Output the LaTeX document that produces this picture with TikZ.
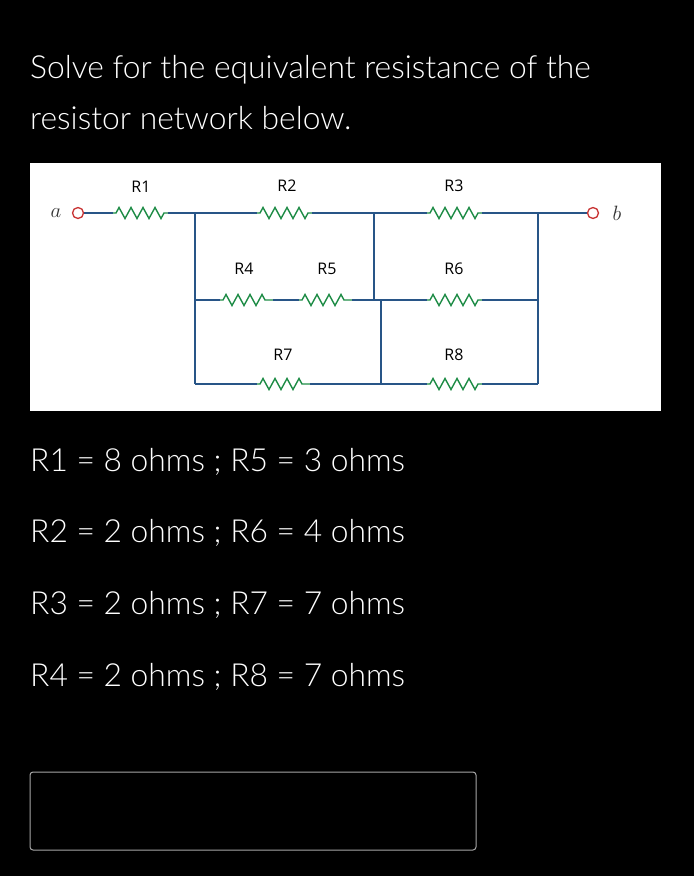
\documentclass[tikz,border=0pt]{standalone}
\usepackage{fontspec}
\setmainfont{Lato Light}
\newfontfamily\lab{Open Sans}
\usetikzlibrary{decorations.pathmorphing,calc}
\definecolor{wire}{RGB}{40,85,135}
\definecolor{resc}{RGB}{30,140,70}
\definecolor{term}{RGB}{200,50,50}
\begin{document}
\begin{tikzpicture}[x=1pt,y=-1pt,
  w/.style={wire,line width=1.8pt},
  r/.style={resc,line width=1.4pt,decorate,decoration={zigzag,segment length=12pt,amplitude=5.5pt,pre length=3pt,post length=3pt}},
  lb/.style={font=\lab\fontsize{16}{16}\selectfont,text=black},
  big/.style={font=\fontsize{31.8}{31.8}\selectfont,text=white,anchor=west,inner sep=0}]
\useasboundingbox[fill=black] (0,0) rectangle (694,876);
\node[big] (t1) at (30,70) {Solve for the equivalent resistance of the};
\node[big] (t2) at (30,118) {resistor network below.};
\fill[white] (30,163) rectangle (661,411);
\coordinate (a) at (78,213); \coordinate (b) at (593,213);
\coordinate (TL) at (195,213); \coordinate (TM) at (374,213); \coordinate (TR) at (538,213);
\coordinate (ML) at (195,300); \coordinate (MM) at (374,300); \coordinate (MN) at (381,300); \coordinate (MR) at (538,300);
\coordinate (BL) at (195,384); \coordinate (BM) at (381,384); \coordinate (BR) at (538,384);
\foreach \n/\x/\y/\e in {1/113/213/168, 2/257/213/312, 3/427/213/482, 4/220/300/273, 5/299/300/352, 6/427/300/482, 7/257/384/310, 8/427/384/482}{
  \coordinate (r\n a) at (\x,\y); \coordinate (r\n b) at (\e,\y);
  \draw[r] (r\n a) -- (r\n b);
}
\draw[w] ($(a)+(5,0)$) -- (r1a) (r1b) -- (TL) -- (r2a) (r2b) -- (TM) -- (r3a) (r3b) -- (TR) -- ($(b)+(-5,0)$);
\draw[w] (TL) -- (BL) (TM) -- (MM) (MN) -- (BM) (TR) -- (BR);
\draw[w] (ML) -- (r4a) (r4b) -- (r5a) (r5b) -- (MN) -- (r6a) (r6b) -- (MR);
\draw[w] (BL) -- (r7a) (r7b) -- (BM) -- (r8a) (r8b) -- (BR);
\draw[term,line width=1.3pt,fill=white] (a) circle (5.5) (b) circle (5.5);
\node[font=\fontsize{22}{22}\selectfont,text=black!80] (la) at (56,213) {$a$};
\node[font=\fontsize{22}{22}\selectfont,text=black!80] (lbb) at (617,213) {$b$};
\foreach \t/\x/\y in {R1/141/187,R2/287/186,R3/454/186,R4/244/269,R5/327/269,R6/454/269,R7/283/355,R8/454/355}
  \node[lb] (L\t) at (\x,\y) {\t};
\node[big] (v1) at (30,462) {R1 = 8 ohms ; R5 = 3 ohms};
\node[big] (v2) at (30,533) {R2 = 2 ohms ; R6 = 4 ohms};
\node[big] (v3) at (30,605) {R3 = 2 ohms ; R7 = 7 ohms};
\node[big] (v4) at (30,677) {R4 = 2 ohms ; R8 = 7 ohms};
\draw[gray!70,line width=1pt,rounded corners=3pt] (30,772) rectangle (476,850);
\end{tikzpicture}
\end{document}
